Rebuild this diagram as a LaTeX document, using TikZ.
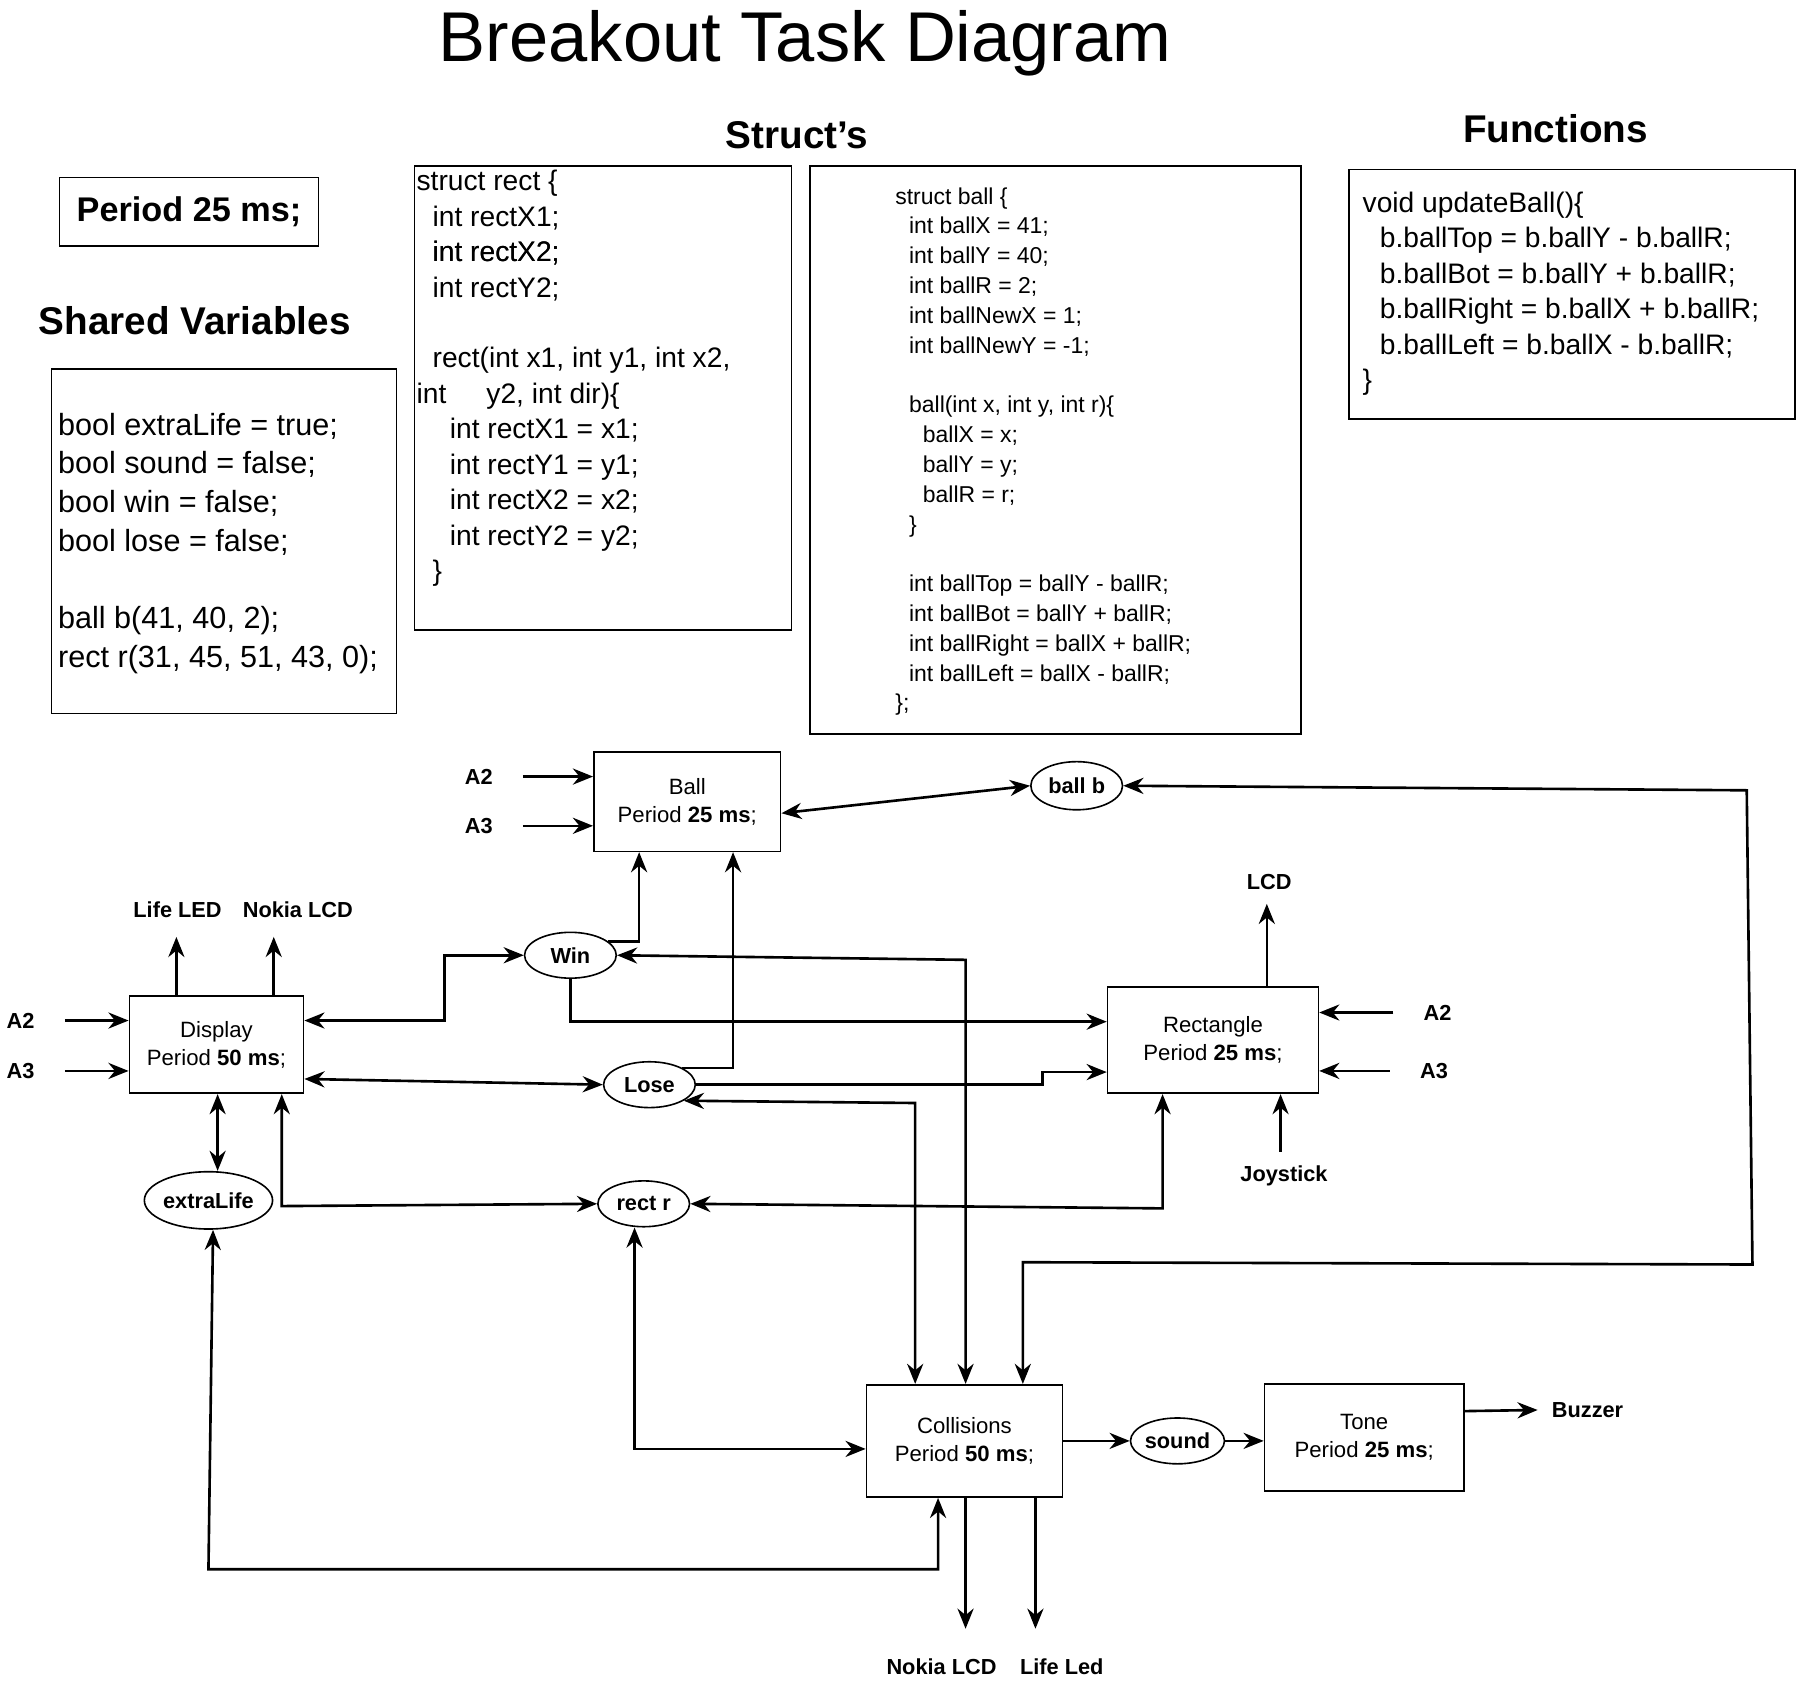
\documentclass[tikz,border=0pt]{standalone}
\usepackage{fontspec}
\setmainfont{Liberation Sans}
\usetikzlibrary{arrows.meta, positioning, shapes.geometric}

\newcommand{\ind}[1]{\hspace*{#1cm}}

\begin{document}
\begin{tikzpicture}[
  x=0.01cm, y=-0.01cm,
  >={Stealth[length=5pt,width=4pt]},
  link/.style={<->, line width=0.65pt},
  flow/.style={->, line width=0.65pt},
  task/.style={draw, line width=0.4pt, align=center, inner sep=0pt,
    font=\fontsize{5.5}{7}\selectfont},
  var/.style={draw, ellipse, line width=0.4pt, inner sep=0pt,
    font=\fontsize{5.4}{6}\selectfont\bfseries},
  io/.style={font=\fontsize{5.4}{6}\selectfont\bfseries},
  codebox/.style={draw, line width=0.4pt, anchor=north west, inner sep=0pt},
  code/.style={anchor=north west, align=left, inner sep=0pt},
  head/.style={font=\fontsize{9.6}{11}\selectfont\bfseries}
]
  \useasboundingbox (0,0) rectangle (1568,1471);

  % headings
  \node (title) at (703,38) {\fontsize{17.5}{20}\selectfont Breakout Task Diagram};
  \node[head] (hstruct) at (696,118) {Struct's};
  \node[head] (hfunc) at (1358,112) {Functions};
  \node[head] (hshared) at (170,280) {Shared Variables};
  \node[draw, line width=0.4pt, minimum width=2.26cm, minimum height=0.6cm,
        font=\fontsize{8.5}{10}\selectfont\bfseries] (period) at (165,185) {Period 25 ms;};

  % code boxes
  \draw[line width=0.4pt] (45,322) rectangle (346,623);
  \node[code, font=\fontsize{7.6}{9.6}\selectfont] (shared) at (50,360) {%
    bool extraLife = true;\\ bool sound = false;\\ bool win = false;\\ bool lose = false;\\[9.6pt]
    ball b(41, 40, 2);\\ rect r(31, 45, 51, 43, 0);};

  \draw[line width=0.4pt] (362,145) rectangle (691,550);
  \node[code, font=\fontsize{7}{8.8}\selectfont] (rectcode) at (363,148) {%
    struct rect \{\\ \ind{0.14}int rectX1;\\ \ind{0.14}int rectX2;\\[-8.8pt]\phantom{x}\\[-8.8pt]%
    \ind{0.14}int rectX2;\\ \ind{0.14}int rectY2;\\[8.8pt]
    \ind{0.14}rect(int x1, int y1, int x2,\\ int\ind{0.35}y2, int dir)\{\\
    \ind{0.29}int rectX1 = x1;\\ \ind{0.29}int rectY1 = y1;\\ \ind{0.29}int rectX2 = x2;\\
    \ind{0.29}int rectY2 = y2;\\ \ind{0.14}\}};

  \draw[line width=0.4pt] (707,145) rectangle (1136,641);
  \node[code, font=\fontsize{5.7}{7.4}\selectfont] (ballcode) at (781,163) {%
    struct ball \{\\ \ind{0.12}int ballX = 41;\\ \ind{0.12}int ballY = 40;\\ \ind{0.12}int ballR = 2;\\
    \ind{0.12}int ballNewX = 1;\\ \ind{0.12}int ballNewY = -1;\\[7.4pt]
    \ind{0.12}ball(int x, int y, int r)\{\\ \ind{0.24}ballX = x;\\ \ind{0.24}ballY = y;\\
    \ind{0.24}ballR = r;\\ \ind{0.12}\}\\[7.4pt]
    \ind{0.12}int ballTop = ballY - ballR;\\ \ind{0.12}int ballBot = ballY + ballR;\\
    \ind{0.12}int ballRight = ballX + ballR;\\ \ind{0.12}int ballLeft = ballX - ballR;\\ \};};

  \draw[line width=0.4pt] (1178,148) rectangle (1567,366);
  \node[code, font=\fontsize{7}{8.8}\selectfont] (funccode) at (1189,167) {%
    void updateBall()\{\\ \ind{0.15}b.ballTop = b.ballY - b.ballR;\\
    \ind{0.15}b.ballBot = b.ballY + b.ballR;\\ \ind{0.15}b.ballRight = b.ballX + b.ballR;\\
    \ind{0.15}b.ballLeft = b.ballX - b.ballR;\\ \}};

  % tasks
  \node[task, minimum width=1.63cm, minimum height=0.87cm] (ball) at (600,700) {Ball\\Period \textbf{25 ms};};
  \node[task, minimum width=1.52cm, minimum height=0.85cm] (display) at (189,912) {Display\\Period \textbf{50 ms};};
  \node[task, minimum width=1.84cm, minimum height=0.93cm] (rectangle) at (1059,908) {Rectangle\\Period \textbf{25 ms};};
  \node[task, minimum width=1.71cm, minimum height=0.98cm] (collisions) at (842,1258) {Collisions\\Period \textbf{50 ms};};
  \node[task, minimum width=1.74cm, minimum height=0.93cm] (tone) at (1191,1255) {Tone\\Period \textbf{25 ms};};

  % shared variables
  \node[var, minimum width=0.8cm, minimum height=0.42cm] (ballb) at (940,686) {ball b};
  \node[var, minimum width=0.8cm, minimum height=0.4cm] (win) at (498,834) {Win};
  \node[var, minimum width=0.8cm, minimum height=0.4cm] (lose) at (567,947) {Lose};
  \node[var, minimum width=0.9cm, minimum height=0.5cm] (extralife) at (182,1048) {extraLife};
  \node[var, minimum width=0.8cm, minimum height=0.4cm] (rectr) at (562,1051) {rect r};
  \node[var, minimum width=0.82cm, minimum height=0.4cm] (sound) at (1028,1258) {sound};

  % inputs and outputs
  \node[io] (ballA2) at (418,678) {A2};
  \node[io] (ballA3) at (418,721) {A3};
  \node[io] (dispA2) at (18,891) {A2};
  \node[io] (dispA3) at (18,935) {A3};
  \node[io] (lifeled) at (155,794) {Life LED};
  \node[io] (nokia) at (260,794) {Nokia LCD};
  \node[io] (lcd) at (1108,770) {LCD};
  \node[io] (rectA2) at (1255,884) {A2};
  \node[io] (rectA3) at (1252,935) {A3};
  \node[io] (joy) at (1121,1027) {Joystick};
  \node[io] (colnokia) at (822,1455) {Nokia LCD};
  \node[io] (colled) at (927,1455) {Life Led};
  \node[io] (buzzer) at (1386,1231) {Buzzer};

  % connectors
  \draw[flow] (ballA2.east) ++(14,0) -- (ball.west |- ballA2);
  \draw[flow] (ballA3.east) ++(14,0) -- (ball.west |- ballA3);
  \draw[link] ([yshift=-0.1cm]ball.east) -- (ballb.west);
  \draw[link] (ballb.east) -- (1525,690) -- (1530,1104) -- (893,1102) -- (collisions.north -| 893,0);

  \draw[flow] (dispA2.east) ++(14,0) -- (display.west |- dispA2);
  \draw[flow] (dispA3.east) ++(14,0) -- (display.west |- dispA3);
  \draw[flow] (display.north -| 154,0) -- (154,818);
  \draw[flow] (display.north -| 239,0) -- (239,818);
  \draw[link] (display.east |- 0,891) -- (388,891) -- (388,834) -- (win.west);
  \draw[link] (display.east |- 0,942) -- (lose.west);
  \draw[link] (display.south -| 190,0) -- (extralife.north -| 190,0);
  \draw[link] (display.south -| 246,0) -- (246,1053) -- (rectr.west);

  \draw[flow] (win.20) -| (558,744);
  \draw[flow] (lose.north east) -| (640,744);
  \draw[flow] (win.south) -- (498,892) -- (rectangle.west |- 0,892);
  \draw[link] (win.east) -- (843,838) -- (collisions.north -| 843,0);
  \draw[flow] (lose.east) -- (910,947) -- (910,936) -- (rectangle.west |- 0,936);
  \draw[link] (lose.-25) -- (799,963) -- (collisions.north -| 799,0);

  \draw[flow] (rectangle.north -| 1106,0) -- (lcd.south -| 1106,0);
  \draw[flow] (rectA2.west) ++(-14,0) -- (rectangle.east |- rectA2);
  \draw[flow] (rectA3.west) ++(-14,0) -- (rectangle.east |- rectA3);
  \draw[flow] (joy.north -| 1118,0) -- (rectangle.south -| 1118,0);
  \draw[link] (rectangle.south -| 1015,0) -- (1015,1055) -- (rectr.east);

  \draw[link] (rectr.south -| 554,0) -- (554,1265) -- (collisions.west |- 0,1265);
  \draw[link] (extralife.south -| 186,0) -- (182,1370) -- (819,1370) -- (collisions.south -| 819,0);
  \draw[flow] (collisions.south -| 843,0) -- (843,1422);
  \draw[flow] (collisions.south -| 904,0) -- (904,1422);
  \draw[flow] (collisions.east |- sound) -- (sound.west);
  \draw[flow] (sound.east) -- (tone.west |- sound);
  \draw[flow] (tone.east |- 0,1232) -- (buzzer.west);
\end{tikzpicture}
\end{document}
